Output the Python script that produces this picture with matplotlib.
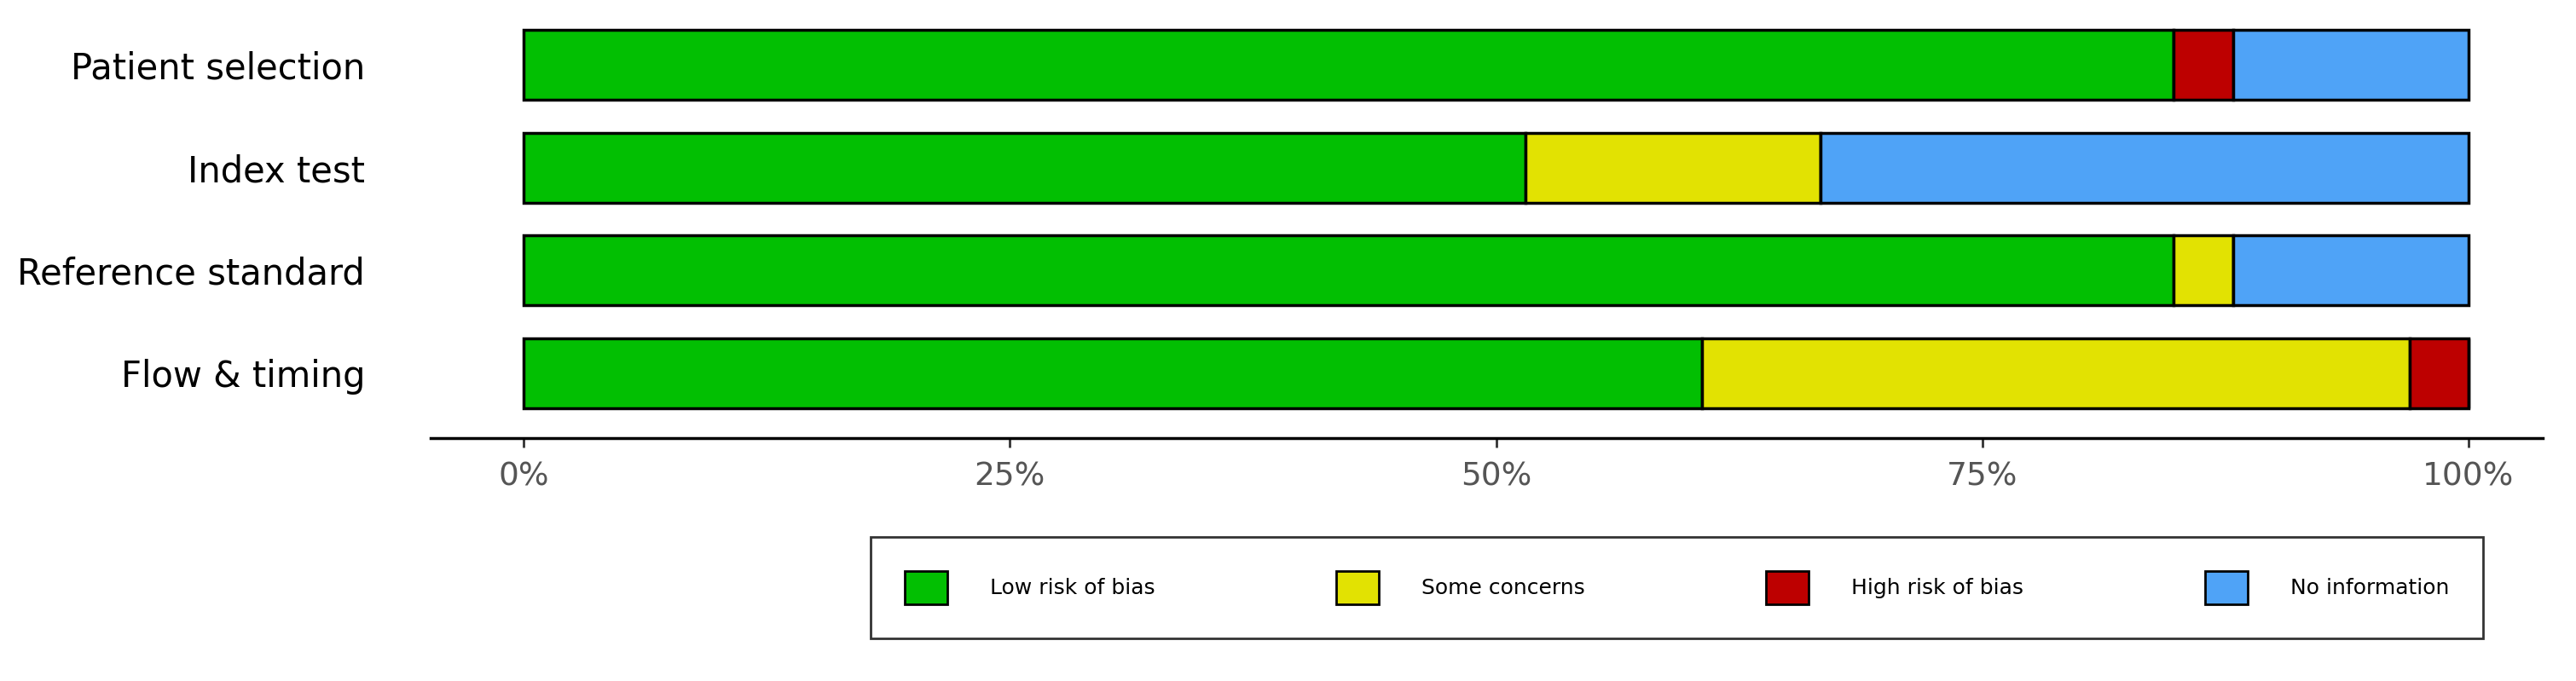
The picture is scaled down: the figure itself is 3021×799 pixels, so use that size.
import matplotlib.pyplot as plt
from matplotlib.patches import Patch

domains = ["Patient selection", "Index test", "Reference standard", "Flow & timing"]
n_studies = 33
low = [28, 17, 28, 20]
some = [0, 5, 1, 12]
high = [1, 0, 0, 1]
noinfo = [4, 11, 4, 0]

cats = ["Low risk of bias", "Some concerns", "High risk of bias", "No information"]
colors = ["#02BF02", "#E2E202", "#BD0000", "#4FA3F7"]

fig = plt.figure(figsize=(30.21, 7.99), dpi=100)
ax = fig.add_axes([0.167, 0.357, 0.82, 0.62])

y = range(len(domains))
left = [0] * len(domains)
for series, col in zip([low, some, high, noinfo], colors):
    pct = [v / n_studies * 100 for v in series]
    ax.barh(y, pct, left=left, height=0.68, color=col, edgecolor="black", linewidth=2.5)
    left = [l + p for l, p in zip(left, pct)]

ax.set_ylim(3.63, -0.48)
ax.set_xlim(-4.8, 103.8)
ax.set_yticks(list(y))
ax.set_yticklabels(domains, fontsize=30)
ax.tick_params(axis="y", length=0, pad=55)
ax.set_xticks([0, 25, 50, 75, 100])
ax.set_xticklabels(["0%", "25%", "50%", "75%", "100%"], fontsize=27, color="#555555")
ax.tick_params(axis="x", length=8, width=2, color="#333333", pad=12)
for s in ["top", "right", "left"]:
    ax.spines[s].set_visible(False)
ax.spines["bottom"].set_linewidth(2.5)

handles = [Patch(facecolor=c, edgecolor="black", linewidth=2) for c in colors]
fig.legend(handles, cats, loc="center", bbox_to_anchor=(0.651, 0.137), ncol=4,
           fontsize=18, frameon=True, edgecolor="black", fancybox=False,
           handlelength=2.0, handleheight=2.0, columnspacing=8.5, handletextpad=2.0,
           borderpad=1.6, borderaxespad=0).get_frame().set_linewidth(2)

fig.savefig("out.png", dpi=100)
